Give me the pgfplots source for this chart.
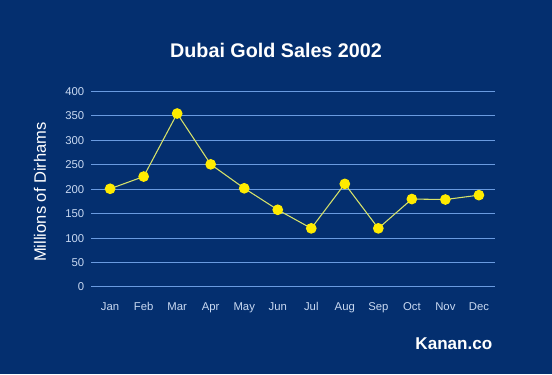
\documentclass[border=0pt]{standalone}
\usepackage{pgfplots}
\pgfplotsset{compat=1.18}
\usepackage{fontspec}
\setmainfont{Liberation Sans}
\definecolor{bg}{HTML}{042F6F}
\definecolor{gridc}{HTML}{6A9BE0}
\definecolor{tickc}{HTML}{C9D9F2}
\definecolor{linec}{HTML}{D6E26A}
\definecolor{markc}{HTML}{FFEB00}
\begin{document}
\begin{tikzpicture}[x=0.75pt,y=0.75pt]
\fill[bg] (0,0) rectangle (552,374);
\begin{axis}[
  at={(68.25pt,65.25pt)}, anchor=south west,
  scale only axis, width=303pt, height=146.6pt,
  xmin=-0.57, xmax=11.48, ymin=0, ymax=400,
  axis line style={draw=none},
  tick style={draw=none},
  ytick={0,50,...,400},
  xtick={0,...,11},
  xticklabels={Jan,Feb,Mar,Apr,May,Jun,Jul,Aug,Sep,Oct,Nov,Dec},
  ymajorgrids, grid style={gridc, line width=0.75pt},
  tick label style={font=\fontsize{8.5}{10}\selectfont, text=tickc},
  /pgf/number format/assume math mode=true,
  yticklabel style={xshift=-1.5pt},
  xticklabel style={anchor=base, yshift=-17.5pt},
  clip=false,
]
\addplot[linec, line width=0.8pt, mark=*, mark size=3.6pt,
  mark options={fill=markc, draw=markc}]
  coordinates {(0,201) (1,226) (2,355) (3,251) (4,202) (5,158) (6,120) (7,211) (8,120) (9,180) (10,179) (11,188)};
\end{axis}
\node[text=white, font=\fontsize{14.8}{17}\selectfont\bfseries] at (276,324) {Dubai Gold Sales 2002};
\node[text=white, rotate=90, font=\fontsize{12.4}{14}\selectfont] at (40,182) {Millions of Dirhams};
\node[text=white, font=\fontsize{12.8}{15}\selectfont\bfseries, anchor=east] at (497,30) {Kanan.co};
\end{tikzpicture}
\end{document}
